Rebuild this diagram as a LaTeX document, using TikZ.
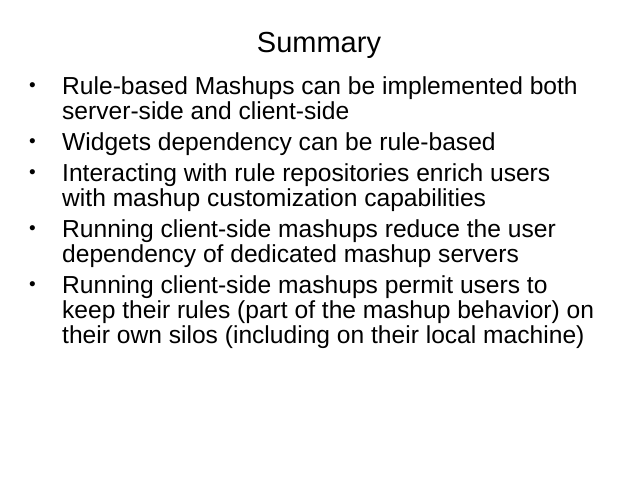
\documentclass[tikz,border=0pt]{standalone}
\usepackage{fontspec}
\setmainfont{Liberation Sans}
\begin{document}
\begin{tikzpicture}[x=1pt,y=-1pt,
  txt/.style={anchor=base west,inner sep=0pt,font=\fontsize{24.6}{28}\selectfont},
  bul/.style={anchor=base west,inner sep=0pt,font=\fontsize{19}{24}\selectfont}]
\useasboundingbox (0,0) rectangle (638,478);
\node[anchor=base,inner sep=0pt,font=\fontsize{29}{32}\selectfont] (title) at (319,53) {Summary};
\foreach \y/\t [count=\i] in {
 95/Rule-based Mashups can be implemented both,
 120/server-side and client-side,
 151/Widgets dependency can be rule-based,
 182/Interacting with rule repositories enrich users,
 207/with mashup customization capabilities,
 238/Running client-side mashups reduce the user,
 263/dependency of dedicated mashup servers,
 294/Running client-side mashups permit users to,
 319/keep their rules (part of the mashup behavior) on,
 344/their own silos (including on their local machine)}
 {\node[txt] (l\i) at (62,\y) {\t};}
\foreach \y [count=\i] in {92,148,179,235,291}
 {\node[bul] (b\i) at (29,\y) {•};}
\end{tikzpicture}
\end{document}
